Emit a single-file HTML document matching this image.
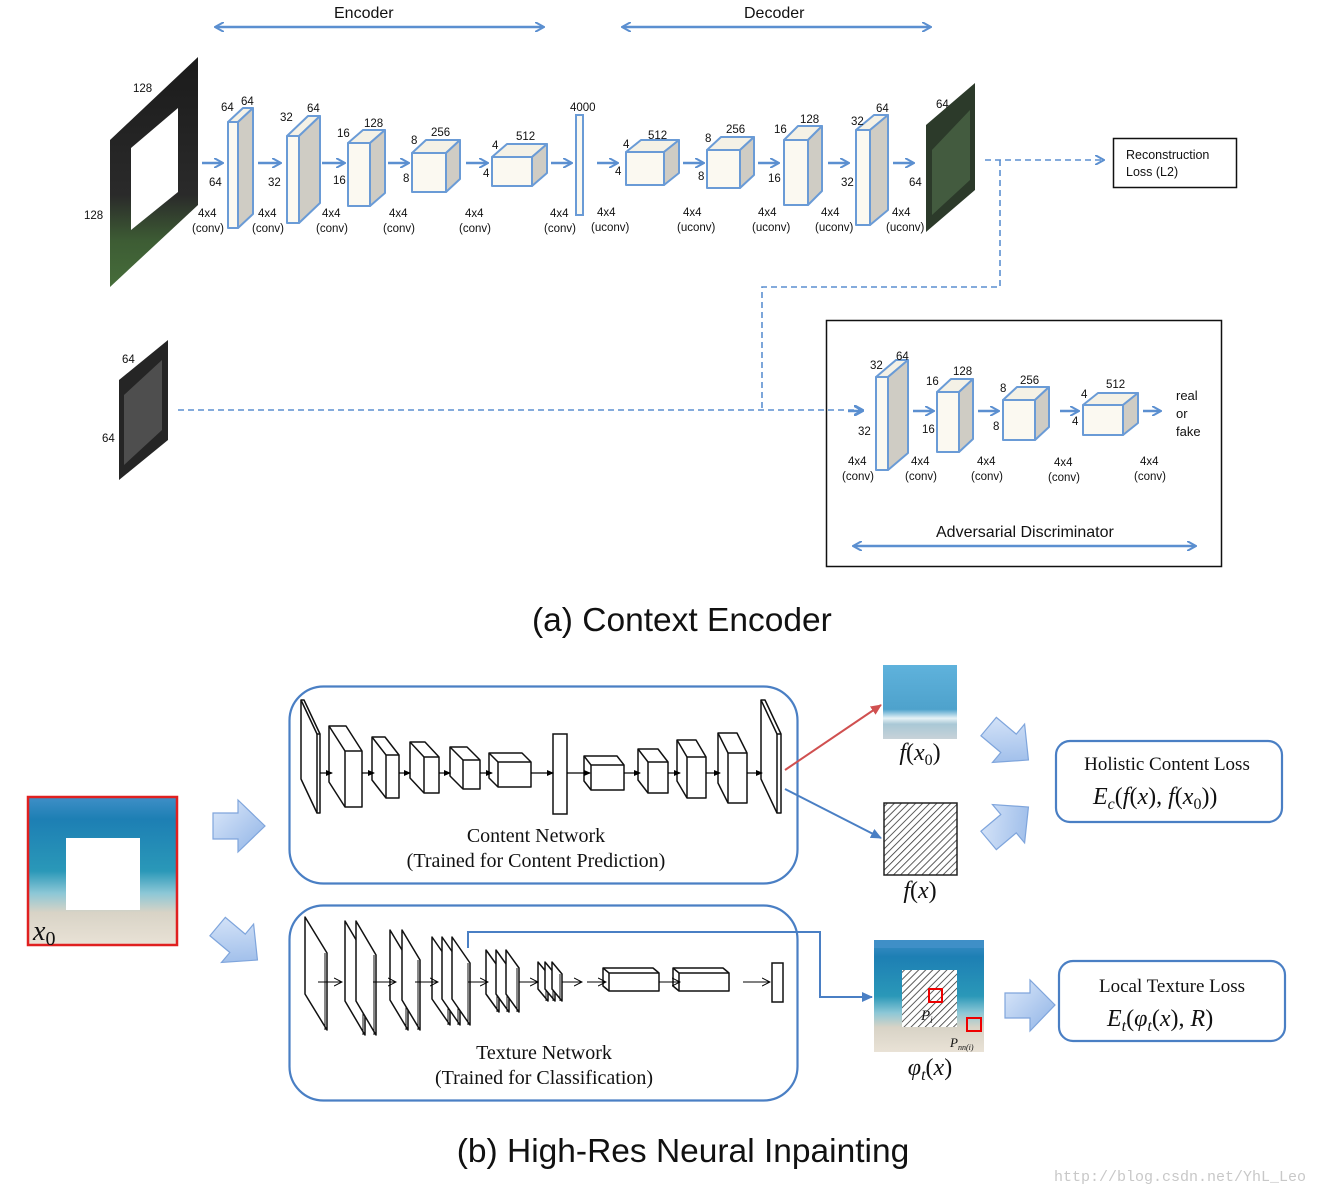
<!DOCTYPE html>
<html><head><meta charset="utf-8"><style>
html,body{margin:0;padding:0;background:#fff;width:1318px;height:1195px;overflow:hidden}
svg{display:block}
.s{font-family:"Liberation Sans",sans-serif;font-size:11.5px;fill:#111}
.m{font-family:"Liberation Serif",serif;fill:#111}
.i{font-style:italic}
</style></head><body>
<svg id="S" width="1318" height="1195" viewBox="0 0 1318 1195" xmlns="http://www.w3.org/2000/svg">
<defs>
<marker id="ab" markerWidth="10" markerHeight="10" refX="8" refY="5" orient="auto-start-reverse" markerUnits="userSpaceOnUse"><path d="M0,0 L9,5 L0,10" fill="none" stroke="#5b8fd0" stroke-width="2"/></marker>
<marker id="abf" markerWidth="12" markerHeight="10" refX="10" refY="5" orient="auto" markerUnits="userSpaceOnUse"><path d="M0,0 L11,5 L0,10 z" fill="#4a7fc4"/></marker>
<marker id="arf" markerWidth="12" markerHeight="10" refX="10" refY="5" orient="auto" markerUnits="userSpaceOnUse"><path d="M0,0 L11,5 L0,10 z" fill="#d05050"/></marker>
<marker id="ak" markerWidth="7" markerHeight="6" refX="6" refY="3" orient="auto" markerUnits="userSpaceOnUse"><path d="M0,0 L7,3 L0,6 z" fill="#000"/></marker>
<marker id="ako" markerWidth="9" markerHeight="10" refX="8" refY="5" orient="auto" markerUnits="userSpaceOnUse"><path d="M0,1 L8,5 L0,9" fill="none" stroke="#000" stroke-width="1"/></marker>
<pattern id="hat" width="5" height="5" patternUnits="userSpaceOnUse" patternTransform="rotate(45)"><rect width="5" height="5" fill="#fff"/><line x1="0" y1="0" x2="0" y2="5" stroke="#333" stroke-width="1.6"/></pattern>
<linearGradient id="sea" x1="0" y1="0" x2="0" y2="1"><stop offset="0" stop-color="#3f8fc7"/><stop offset="0.15" stop-color="#1d7fb4"/><stop offset="0.5" stop-color="#2a98b8"/><stop offset="0.65" stop-color="#8cc7d6"/><stop offset="0.78" stop-color="#d8d3c6"/><stop offset="1" stop-color="#e9e2d6"/></linearGradient>
<linearGradient id="fx0" x1="0" y1="0" x2="0" y2="1"><stop offset="0" stop-color="#5fb2dc"/><stop offset="0.6" stop-color="#4ea2cc"/><stop offset="0.72" stop-color="#e6f2f6"/><stop offset="0.8" stop-color="#a9c8d6"/><stop offset="1" stop-color="#c8d2d8"/></linearGradient>
<linearGradient id="foot" x1="0" y1="0" x2="0" y2="1"><stop offset="0" stop-color="#1b1b1b"/><stop offset="0.6" stop-color="#2a2a2a"/><stop offset="0.8" stop-color="#3d5c34"/><stop offset="1" stop-color="#466d3a"/></linearGradient>
<linearGradient id="bigar" x1="0" y1="0" x2="1" y2="1"><stop offset="0" stop-color="#dde9fa"/><stop offset="1" stop-color="#8fb3e6"/></linearGradient>
</defs>
<g id="G"></g>

<line x1="216" y1="27" x2="543" y2="27" stroke="#5b8fd0" stroke-width="2.5" marker-start="url(#ab)" marker-end="url(#ab)"/>
<line x1="623" y1="27" x2="930" y2="27" stroke="#5b8fd0" stroke-width="2.5" marker-start="url(#ab)" marker-end="url(#ab)"/>
<text x="334" y="18" class="s" style="font-size:16px">Encoder</text>
<text x="744" y="18" class="s" style="font-size:16px">Decoder</text>

<polygon points="110,140 198,57 198,205 110,287" fill="url(#foot)"/>
<polygon points="131,148 178,108 178,192 131,230" fill="#fff"/>
<text x="133" y="92" class="s">128</text>
<text x="84" y="219" class="s">128</text>
<polygon points="926,125 975,83 975,190 926,232" fill="#2c3a2a"/>
<polygon points="932,150 970,110 970,180 932,215" fill="#4d6a48" opacity="0.7"/>
<text x="936" y="108" class="s">64</text>
<text x="909" y="186" class="s">64</text>
<polygon points="119,380 168,340 168,440 119,480" fill="#252525"/>
<polygon points="124,395 162,360 162,430 124,465" fill="#6b6b6b" opacity="0.6"/>
<text x="122" y="363" class="s">64</text>
<text x="102" y="442" class="s">64</text>

<text x="221" y="111" class="s">64</text><text x="241" y="105" class="s">64</text>
<text x="209" y="186" class="s">64</text>
<text x="280" y="121" class="s">32</text><text x="307" y="112" class="s">64</text>
<text x="268" y="186" class="s">32</text>
<text x="337" y="137" class="s">16</text><text x="364" y="127" class="s">128</text>
<text x="333" y="184" class="s">16</text>
<text x="411" y="144" class="s">8</text><text x="431" y="136" class="s">256</text>
<text x="403" y="182" class="s">8</text>
<text x="492" y="149" class="s">4</text><text x="516" y="140" class="s">512</text>
<text x="483" y="177" class="s">4</text>
<text x="570" y="111" class="s">4000</text>
<g class="s">
<text x="198" y="217">4x4</text><text x="192" y="232">(conv)</text>
<text x="258" y="217">4x4</text><text x="252" y="232">(conv)</text>
<text x="322" y="217">4x4</text><text x="316" y="232">(conv)</text>
<text x="389" y="217">4x4</text><text x="383" y="232">(conv)</text>
<text x="465" y="217">4x4</text><text x="459" y="232">(conv)</text>
<text x="550" y="217">4x4</text><text x="544" y="232">(conv)</text>
<text x="597" y="216">4x4</text><text x="591" y="231">(uconv)</text>
<text x="683" y="216">4x4</text><text x="677" y="231">(uconv)</text>
<text x="758" y="216">4x4</text><text x="752" y="231">(uconv)</text>
<text x="821" y="216">4x4</text><text x="815" y="231">(uconv)</text>
<text x="892" y="216">4x4</text><text x="886" y="231">(uconv)</text>
</g>
<text x="623" y="148" class="s">4</text><text x="648" y="139" class="s">512</text>
<text x="615" y="175" class="s">4</text>
<text x="705" y="142" class="s">8</text><text x="726" y="133" class="s">256</text>
<text x="698" y="180" class="s">8</text>
<text x="774" y="133" class="s">16</text><text x="800" y="123" class="s">128</text>
<text x="768" y="182" class="s">16</text>
<text x="851" y="125" class="s">32</text><text x="876" y="112" class="s">64</text>
<text x="841" y="186" class="s">32</text>

<rect x="1113.5" y="138.5" width="123" height="49" fill="#fff" stroke="#111" stroke-width="1.5"/>
<text x="1126" y="159" class="s" style="font-size:12.5px">Reconstruction</text>
<text x="1126" y="176" class="s" style="font-size:12.5px">Loss (L2)</text>

<g fill="none" stroke="#5b8fd0" stroke-width="1.6" stroke-dasharray="6,4">
<line x1="985" y1="160" x2="1103" y2="160" marker-end="url(#ab)"/>
<polyline points="1000,160 1000,287 762,287 762,410"/>
<line x1="178" y1="410" x2="862" y2="410" marker-end="url(#ab)"/>
</g>

<rect x="826.5" y="320.5" width="395" height="246" fill="none" stroke="#111" stroke-width="1.5"/>
<text x="870" y="369" class="s">32</text><text x="896" y="360" class="s">64</text>
<text x="858" y="435" class="s">32</text>
<text x="926" y="385" class="s">16</text><text x="953" y="375" class="s">128</text>
<text x="922" y="433" class="s">16</text>
<text x="1000" y="392" class="s">8</text><text x="1020" y="384" class="s">256</text>
<text x="993" y="430" class="s">8</text>
<text x="1081" y="398" class="s">4</text><text x="1106" y="388" class="s">512</text>
<text x="1072" y="425" class="s">4</text>
<text x="1176" y="400" class="s" style="font-size:13px">real</text>
<text x="1176" y="418" class="s" style="font-size:13px">or</text>
<text x="1176" y="436" class="s" style="font-size:13px">fake</text>
<g class="s">
<text x="848" y="465">4x4</text><text x="842" y="480">(conv)</text>
<text x="911" y="465">4x4</text><text x="905" y="480">(conv)</text>
<text x="977" y="465">4x4</text><text x="971" y="480">(conv)</text>
<text x="1054" y="466">4x4</text><text x="1048" y="481">(conv)</text>
<text x="1140" y="465">4x4</text><text x="1134" y="480">(conv)</text>
</g>
<text x="936" y="537" class="s" style="font-size:16px">Adversarial Discriminator</text>
<line x1="854" y1="546" x2="1195" y2="546" stroke="#5b8fd0" stroke-width="2.5" marker-start="url(#ab)" marker-end="url(#ab)"/>

<text x="532" y="631" style="font-family:'Liberation Sans',sans-serif;font-size:33.5px;fill:#111">(a) Context Encoder</text>

<rect x="289.5" y="686.5" width="508" height="197" rx="34" fill="none" stroke="#4a7fc4" stroke-width="2.2"/>
<rect x="289.5" y="905.5" width="508" height="195" rx="34" fill="none" stroke="#4a7fc4" stroke-width="2.2"/>
<text x="536" y="842" text-anchor="middle" class="m" style="font-size:20px">Content Network</text>
<text x="536" y="867" text-anchor="middle" class="m" style="font-size:20px">(Trained for Content Prediction)</text>
<text x="544" y="1059" text-anchor="middle" class="m" style="font-size:20px">Texture Network</text>
<text x="544" y="1084" text-anchor="middle" class="m" style="font-size:20px">(Trained for Classification)</text>

<rect x="28" y="797" width="149" height="148" fill="url(#sea)" stroke="#e02020" stroke-width="2.5"/>
<rect x="66" y="838" width="74" height="72" fill="#fff"/>
<text x="33" y="940" class="m i" style="font-size:28px">x<tspan dy="5" font-size="20" font-style="normal">0</tspan></text>

<polygon points="213,813 238,813 238,800 265,826 238,852 238,839 213,839" fill="url(#bigar)" stroke="#7fa5dc" stroke-width="1.2"/>
<g transform="translate(236,942) rotate(40)"><polygon points="-24,-12 2,-12 2,-25 28,0 2,25 2,12 -24,12" fill="url(#bigar)" stroke="#7fa5dc" stroke-width="1.2"/></g>
<g transform="translate(1007,742) rotate(40)"><polygon points="-24,-12 2,-12 2,-25 28,0 2,25 2,12 -24,12" fill="url(#bigar)" stroke="#7fa5dc" stroke-width="1.2"/></g>
<g transform="translate(1007,825) rotate(-40)"><polygon points="-24,-12 2,-12 2,-25 28,0 2,25 2,12 -24,12" fill="url(#bigar)" stroke="#7fa5dc" stroke-width="1.2"/></g>
<polygon points="1005,993 1030,993 1030,980 1055,1005 1030,1031 1030,1018 1005,1018" fill="url(#bigar)" stroke="#7fa5dc" stroke-width="1.2"/>

<line x1="785" y1="770" x2="881" y2="705" stroke="#d05050" stroke-width="2" marker-end="url(#arf)"/>
<line x1="785" y1="789" x2="881" y2="838" stroke="#4a7fc4" stroke-width="2" marker-end="url(#abf)"/>
<polyline points="468,948 468,932 820,932 820,997 872,997" fill="none" stroke="#4a7fc4" stroke-width="2" marker-end="url(#abf)"/>

<rect x="883" y="665" width="74" height="74" fill="url(#fx0)"/>
<text x="920" y="760" text-anchor="middle" class="m i" style="font-size:24px">f<tspan font-style="normal">(</tspan>x<tspan dy="5" font-size="16" font-style="normal">0</tspan><tspan dy="-5" font-style="normal">)</tspan></text>
<rect x="884" y="803" width="73" height="72" fill="url(#hat)" stroke="#222" stroke-width="1.5"/>
<text x="920" y="898" text-anchor="middle" class="m i" style="font-size:24px">f<tspan font-style="normal">(</tspan>x<tspan font-style="normal">)</tspan></text>

<rect x="874" y="940" width="110" height="112" fill="url(#sea)"/>
<rect x="874" y="940" width="110" height="8" fill="#3f8fc7"/>
<rect x="902" y="970" width="55" height="57" fill="url(#hat)"/>
<rect x="929" y="989" width="13" height="13" fill="none" stroke="#e00" stroke-width="2"/>
<rect x="967" y="1018" width="14" height="13" fill="none" stroke="#e00" stroke-width="2"/>
<text x="921" y="1020" class="m i" style="font-size:15px">P<tspan font-size="9" dy="3">i</tspan></text>
<text x="950" y="1047" class="m i" style="font-size:13px">P<tspan font-size="8" dy="3">nn(i)</tspan></text>
<text x="930" y="1075" text-anchor="middle" class="m i" style="font-size:24px">φ<tspan dy="5" font-size="16">t</tspan><tspan dy="-5" font-style="normal">(</tspan>x<tspan font-style="normal">)</tspan></text>

<rect x="1056" y="741" width="226" height="81" rx="14" fill="#fff" stroke="#4a7fc4" stroke-width="2.2"/>
<text x="1167" y="770" text-anchor="middle" class="m" style="font-size:19px">Holistic Content Loss</text>
<text x="1093" y="804" class="m i" style="font-size:24px">E<tspan dy="5" font-size="16">c</tspan><tspan dy="-5" font-style="normal">(</tspan>f<tspan font-style="normal">(</tspan>x<tspan font-style="normal">), </tspan>f<tspan font-style="normal">(</tspan>x<tspan dy="5" font-size="16" font-style="normal">0</tspan><tspan dy="-5" font-style="normal">))</tspan></text>
<rect x="1059" y="961" width="226" height="80" rx="14" fill="#fff" stroke="#4a7fc4" stroke-width="2.2"/>
<text x="1172" y="992" text-anchor="middle" class="m" style="font-size:19px">Local Texture Loss</text>
<text x="1107" y="1026" class="m i" style="font-size:24px">E<tspan dy="5" font-size="16">t</tspan><tspan dy="-5" font-style="normal">(</tspan>φ<tspan dy="5" font-size="16">t</tspan><tspan dy="-5" font-style="normal">(</tspan>x<tspan font-style="normal">), </tspan>R<tspan font-style="normal">)</tspan></text>

<text x="683" y="1162" text-anchor="middle" style="font-family:'Liberation Sans',sans-serif;font-size:33.5px;fill:#111">(b) High-Res Neural Inpainting</text>
<text x="1306" y="1181" text-anchor="end" style="font-family:'Liberation Mono',monospace;font-size:15px;fill:#c8c8c8">http://blog.csdn.net/YhL_Leo</text>
</svg>
<script>
var G=document.getElementById('G'),NS='http://www.w3.org/2000/svg';
function el(t,a){var e=document.createElementNS(NS,t);for(var k in a)e.setAttribute(k,a[k]);G.appendChild(e);return e;}
function P(pts){return pts.map(function(p){return p.join(',')}).join(' ');}
function cube(x,y,w,h,dx,dy){
 var st={stroke:'#6a9bd6','stroke-width':2,'stroke-linejoin':'round'};
 el('polygon',Object.assign({points:P([[x,y],[x+dx,y-dy],[x+w+dx,y-dy],[x+w,y]]),fill:'#f4f1e6'},st));
 el('polygon',Object.assign({points:P([[x+w,y],[x+w+dx,y-dy],[x+w+dx,y+h-dy],[x+w,y+h]]),fill:'#cfccc4'},st));
 el('rect',Object.assign({x:x,y:y,width:w,height:h,fill:'#fbf9f1'},st));
}
function barr(x1,x2,y){el('line',{x1:x1,y1:y,x2:x2,y2:y,stroke:'#5b8fd0','stroke-width':2.5,'marker-end':'url(#ab)'});}
cube(228,122,10,106,15,14);cube(287,136,12,87,21,20);cube(348,143,22,63,15,13);cube(412,153,34,39,14,13);cube(492,157,40,29,15,13);
el('rect',{x:576,y:115,width:7,height:100,fill:'#fbf9f1',stroke:'#6a9bd6','stroke-width':2});
cube(626,152,38,33,15,12);cube(707,150,33,38,14,13);cube(784,140,24,65,14,14);cube(856,130,14,95,18,15);
[[202,222],[258,280],[322,344],[388,408],[466,487],[551,571],[597,617],[683,703],[758,778],[828,848],[893,913]].forEach(function(a){barr(a[0],a[1],163);});
cube(876,377,12,93,20,17);cube(937,392,22,60,14,13);cube(1003,400,32,40,14,13);cube(1083,405,40,30,15,12);
[[848,862],[913,933],[978,998],[1060,1078],[1143,1160]].forEach(function(a){barr(a[0],a[1],411);});
function lbox(x,y,w,h,dx,dy){
 var s={fill:'#fff',stroke:'#111','stroke-width':1.5,'stroke-linejoin':'round'};
 el('polygon',Object.assign({points:P([[x-dx,y-dy],[x+w-dx,y-dy],[x+w,y],[x+w,y+h],[x,y+h],[x-dx,y+h-dy]])},s));
 el('polyline',{points:P([[x-dx,y-dy],[x,y],[x+w,y]]),fill:'none',stroke:'#111','stroke-width':1.5});
 el('line',{x1:x,y1:y,x2:x,y2:y+h,stroke:'#111','stroke-width':1.5});
}
lbox(317,734,3,79,16,34);
lbox(345,751,17,56,16,25);lbox(386,755,13,43,14,18);lbox(424,757,15,36,14,15);lbox(463,760,17,29,13,13);lbox(498,762,33,25,9,9);
el('rect',{x:553,y:734,width:14,height:80,fill:'#fff',stroke:'#111','stroke-width':1.5});
lbox(591,765,33,25,7,9);lbox(648,762,20,31,10,13);lbox(687,757,19,41,10,17);lbox(728,753,19,50,10,20);lbox(777,734,4,79,16,34);
[[320,332],[362,374],[399,410],[439,450],[480,492],[531,553],[567,590],[624,640],[668,680],[706,720],[747,762]].forEach(function(a){el('line',{x1:a[0],y1:773,x2:a[1],y2:773,stroke:'#000','stroke-width':1.2,'marker-end':'url(#ak)'});});
function slab(x,y1,y2,w,s){el('polygon',{points:P([[x,y1],[x+w,y1+s],[x+w,y2],[x,y2-s]]),fill:'#fff',stroke:'#111','stroke-width':1.5,'stroke-linejoin':'round'});el('line',{x1:x+w-2,y1:y1+s,x2:x+w-2,y2:y2,stroke:'#111','stroke-width':1});}
slab(305,917,1030,22,36);
slab(345,921,1035,20,34);slab(356,921,1035,20,34);
slab(390,930,1030,18,30);slab(402,930,1030,18,30);
slab(432,937,1025,18,26);slab(442,937,1025,18,26);slab(452,937,1025,18,26);
slab(486,950,1012,13,18);slab(496,950,1012,13,18);slab(506,950,1012,13,18);
slab(538,962,1001,10,12);slab(545,962,1001,10,12);slab(552,962,1001,10,12);
lbox(609,973,50,18,6,5);lbox(679,973,50,18,6,5);
el('rect',{x:772,y:963,width:11,height:39,fill:'#fff',stroke:'#111','stroke-width':1.5});
[[318,342],[373,396],[415,438],[468,488],[519,538],[562,582],[587,606],[659,680],[743,770]].forEach(function(a){el('line',{x1:a[0],y1:982,x2:a[1],y2:982,stroke:'#000','stroke-width':1,'marker-end':'url(#ako)'});});
</script>
</body></html>
